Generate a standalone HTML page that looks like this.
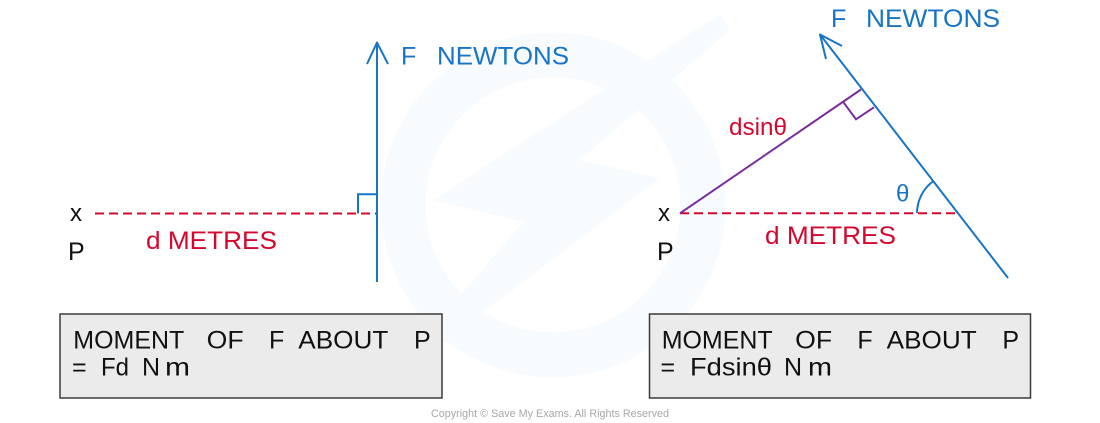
<!DOCTYPE html>
<html>
<head>
<meta charset="utf-8">
<style>
  html, body { margin: 0; padding: 0; background: #fff; }
  body { width: 1100px; height: 423px; overflow: hidden; }
  svg { display: block; }
  text { font-family: "Liberation Sans", "DejaVu Sans", sans-serif; }
</style>
</head>
<body>
<svg width="1100" height="423" viewBox="0 0 1100 423" xmlns="http://www.w3.org/2000/svg">
  <!-- very faint watermark -->
  <g>
    <circle cx="553" cy="205" r="150" fill="none" stroke="#f8fbfd" stroke-width="45"/>
    <polygon points="720,14 433,200 523,222 377,393 660,178 580,160 730,30" fill="#f8fbfd"/>
  </g>

  <!-- ===== LEFT DIAGRAM ===== -->
  <line x1="95" y1="213.5" x2="377" y2="213.5" stroke="#d4082e" stroke-width="2" stroke-dasharray="9,5"/>
  <polyline points="358,213.5 358,194.3 377,194.3" fill="none" stroke="#1874c4" stroke-width="2"/>
  <line x1="377" y1="42" x2="377" y2="282" stroke="#1874c4" stroke-width="2"/>
  <polyline points="367,64 377,42.5 388,64" fill="none" stroke="#1874c4" stroke-width="2" stroke-linejoin="round"/>
  <text x="401" y="64.5" font-size="25" fill="#1874c4">F</text>
  <text x="437" y="64.5" font-size="25" fill="#1874c4" textLength="132" lengthAdjust="spacingAndGlyphs">NEWTONS</text>
  <text x="76" y="221" font-size="24" fill="#111" text-anchor="middle">x</text>
  <text x="68" y="260" font-size="25" fill="#111">P</text>
  <text x="146" y="249" font-size="25" fill="#d4082e" textLength="131" lengthAdjust="spacingAndGlyphs">d METRES</text>

  <!-- ===== RIGHT DIAGRAM ===== -->
  <line x1="680" y1="213.3" x2="957" y2="213.3" stroke="#d4082e" stroke-width="2" stroke-dasharray="9,5"/>
  <line x1="680" y1="213.3" x2="861" y2="89.5" stroke="#7a2c9e" stroke-width="2"/>
  <polyline points="843,101.7 856,119.3 874,107.3" fill="none" stroke="#7a2c9e" stroke-width="2"/>
  <line x1="820" y1="34.5" x2="1008" y2="278" stroke="#1874c4" stroke-width="2"/>
  <polyline points="826,59 820,34.5 842,46" fill="none" stroke="#1874c4" stroke-width="2" stroke-linejoin="round"/>
  <path d="M 917 213 A 40 40 0 0 1 932.7 181.5" fill="none" stroke="#1874c4" stroke-width="2"/>
  <text x="896" y="201.5" font-size="24" fill="#1874c4">θ</text>
  <text x="831" y="27" font-size="25" fill="#1874c4">F</text>
  <text x="866" y="27" font-size="25" fill="#1874c4" textLength="134" lengthAdjust="spacingAndGlyphs">NEWTONS</text>
  <text x="729" y="135" font-size="24" fill="#d4082e" textLength="58" lengthAdjust="spacingAndGlyphs">dsinθ</text>
  <text x="664" y="221" font-size="24" fill="#111" text-anchor="middle">x</text>
  <text x="657" y="260" font-size="25" fill="#111">P</text>
  <text x="765" y="244" font-size="25" fill="#d4082e" textLength="131" lengthAdjust="spacingAndGlyphs">d METRES</text>

  <!-- ===== BOXES ===== -->
  <rect x="60" y="314" width="382" height="84" fill="#ebebeb" stroke="#3a3a3a" stroke-width="1.5"/>
  <g font-size="25" fill="#111">
    <text x="73.3" y="348.3" textLength="111" lengthAdjust="spacingAndGlyphs">MOMENT</text>
    <text x="206.7" y="348.3" textLength="37" lengthAdjust="spacingAndGlyphs">OF</text>
    <text x="269" y="348.3">F</text>
    <text x="298.3" y="348.3" textLength="90" lengthAdjust="spacingAndGlyphs">ABOUT</text>
    <text x="414" y="348.3">P</text>
    <text x="72" y="375.5">=</text>
    <text x="101" y="375.5" textLength="28" lengthAdjust="spacingAndGlyphs">Fd</text>
    <text x="142" y="375.5">N</text>
    <text x="165" y="375.5" textLength="25" lengthAdjust="spacingAndGlyphs">m</text>
  </g>

  <rect x="649.5" y="314" width="381" height="84" fill="#ebebeb" stroke="#3a3a3a" stroke-width="1.5"/>
  <g font-size="25" fill="#111">
    <text x="661.7" y="348.3" textLength="111" lengthAdjust="spacingAndGlyphs">MOMENT</text>
    <text x="795.1" y="348.3" textLength="37" lengthAdjust="spacingAndGlyphs">OF</text>
    <text x="857.4" y="348.3">F</text>
    <text x="886.7" y="348.3" textLength="90" lengthAdjust="spacingAndGlyphs">ABOUT</text>
    <text x="1002.4" y="348.3">P</text>
    <text x="660.5" y="375.5">=</text>
    <text x="690" y="375.5" textLength="82" lengthAdjust="spacingAndGlyphs">Fdsinθ</text>
    <text x="784" y="375.5">N</text>
    <text x="808" y="375.5" textLength="24" lengthAdjust="spacingAndGlyphs">m</text>
  </g>

  <text x="431" y="417" font-size="11" fill="#a8a8a8" textLength="238" lengthAdjust="spacingAndGlyphs">Copyright © Save My Exams. All Rights Reserved</text>
</svg>
</body>
</html>
